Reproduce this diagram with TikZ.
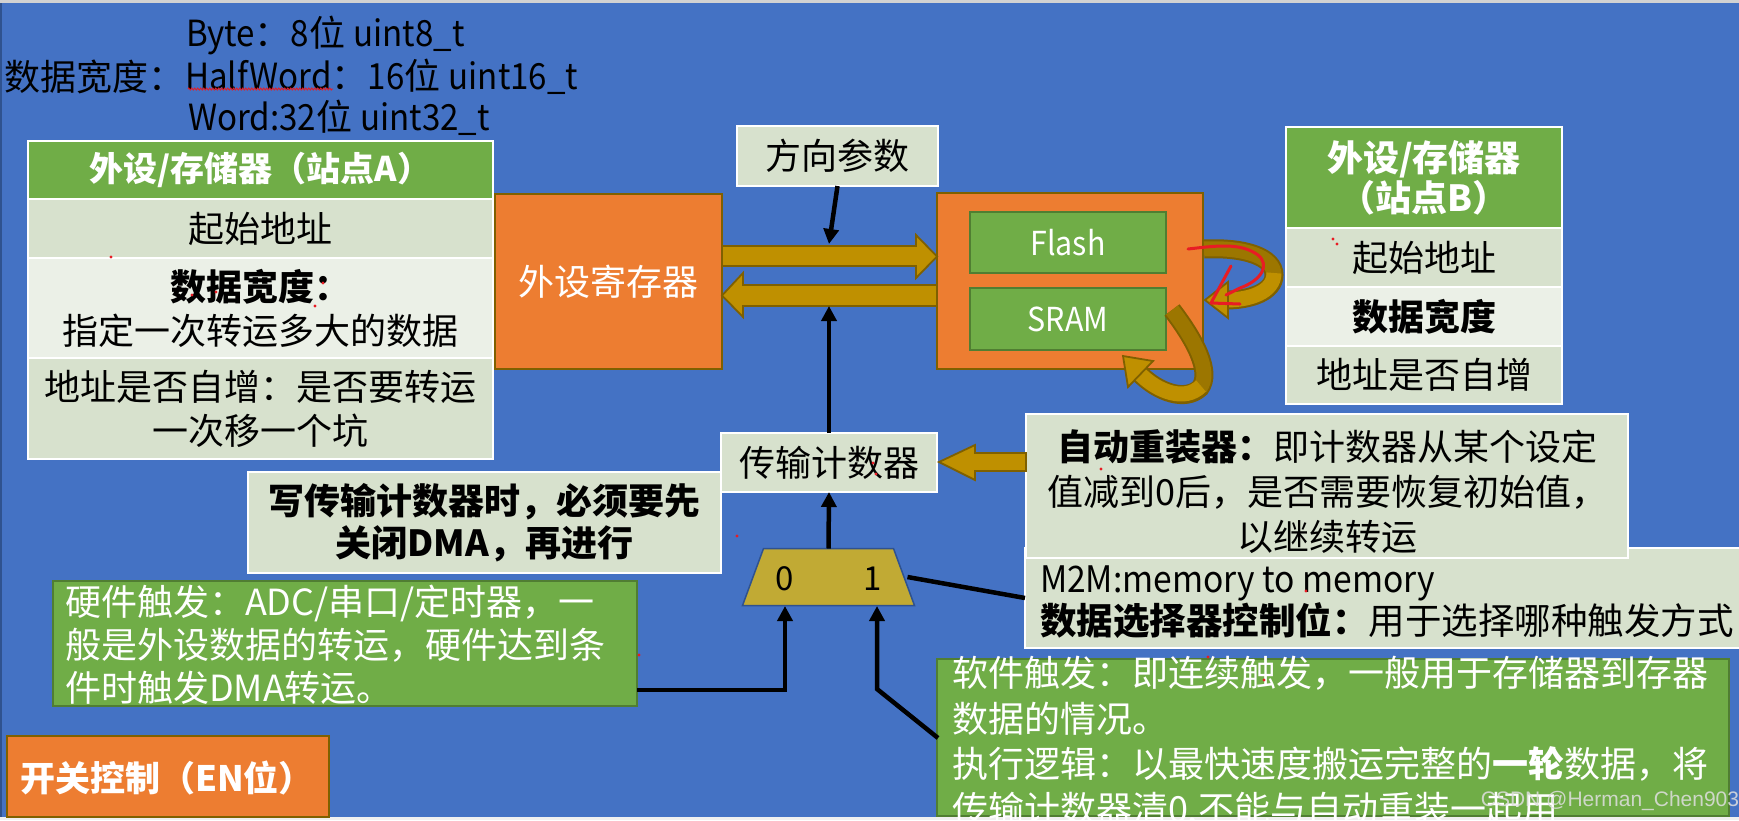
\documentclass[tikz,border=0pt]{standalone}
\usepackage{fontspec}
\setmainfont{Noto Sans CJK SC}
\newfontfamily\latn[FakeStretch=0.92]{Noto Sans CJK SC}
\newfontfamily\latm[FakeStretch=0.92]{Noto Sans CJK SC}
\newfontfamily\wmfont{Liberation Sans}
\usetikzlibrary{arrows.meta,calc,decorations.pathmorphing}
\definecolor{bgblue}{HTML}{4472C4}
\definecolor{bgdark}{HTML}{2F528F}
\definecolor{orangeF}{HTML}{ED7D31}
\definecolor{goldB}{HTML}{7F6000}
\definecolor{greenF}{HTML}{70AD47}
\definecolor{greenB}{HTML}{507E32}
\definecolor{rowA}{HTML}{D7E1CD}
\definecolor{rowB}{HTML}{EBF0E7}
\definecolor{goldF}{HTML}{BF9000}
\definecolor{goldD}{HTML}{9C7600}
\definecolor{muxF}{RGB}{193,170,52}
\definecolor{redpen}{RGB}{232,28,36}
\newcommand\myfs[2]{\fontsize{#1}{#2}\selectfont}
\begin{document}
\begin{tikzpicture}[x=1pt,y=-1pt,
  every node/.style={inner sep=0pt,outer sep=0pt},
  lbox/.style={draw=white,line width=2pt,fill=rowA},
  cellB/.style={draw=white,line width=2.5pt,fill=rowB},
  cellA/.style={draw=white,line width=2.5pt,fill=rowA},
  hdr/.style={draw=white,line width=2.5pt,fill=greenF,text=white},
  obox/.style={draw=goldB,line width=2pt,fill=orangeF},
  gbox/.style={draw=greenB,line width=2.2pt,fill=greenF},
  conn/.style={line width=4.5pt,-{Triangle[length=15pt,width=15pt]}},
  wire/.style={line width=4.5pt},
  body/.style={font=\myfs{36}{44}},
  block/.style={fill=goldF,draw=goldB,line width=1.8pt,line join=miter},
  ribbonB/.style={draw=goldB,line width=19pt},
  ribbonD/.style={draw=goldD,line width=15pt},
  ribbonL/.style={draw=goldF,line width=15pt},
  pen/.style={draw=redpen,line width=3pt,line cap=round,line join=round},
  dot/.style={fill=redpen}
]
\useasboundingbox (0,0) rectangle (1739,820);
\clip (0,0) rectangle (1739,820);
% background
\fill[bgblue] (0,0) rectangle (1739,820);
\fill[gray!35] (0,0) rectangle (1739,3);
\fill[gray!12] (0,817) rectangle (1739,820);
\draw[bgdark,line width=2pt] (1,3) -- (1,817);

% top text
\node[anchor=west,font=\myfs{36}{40}] (t1) at (186,35) {{\latn Byte}：{\latn 8}位 {\latn uint8\_t}};
\node[anchor=west,font=\myfs{36}{40}] (t0) at (5,77) {数据宽度：};
\node[anchor=west,font=\myfs{36}{40}] (t2) at (185,77) {{\latn HalfWord}：{\latn 16}位 {\latn uint16\_t}};
\node[anchor=west,font=\myfs{36}{40}] (t3) at (188,118) {{\latn Word:32}位 {\latn uint32\_t}};
\draw[redpen,line width=0.9pt,decorate,decoration={zigzag,segment length=3pt,amplitude=1pt}] (188,89) -- (333,89);

% table A
\node[hdr,minimum width=465pt,minimum height=58pt,font=\myfs{34}{40}\bfseries] (aH) at (260.5,170) {外设/存储器（站点A）};
\node[cellA,minimum width=465pt,minimum height=59pt,body] (aR1) at (260.5,228.5) {起始地址};
\node[cellB,minimum width=465pt,minimum height=100pt,body,align=center] (aR2) at (260.5,308) {\textbf{数据宽度：}\\指定一次转运多大的数据};
\node[cellA,minimum width=465pt,minimum height=101pt,body,align=center] (aR3) at (260.5,408.5) {地址是否自增：是否要转运\\一次移一个坑};

% peripheral register
\node[obox,minimum width=227pt,minimum height=175pt,body,text=white] (reg) at (608.5,281.5) {外设寄存器};
% direction parameter
\node[lbox,minimum width=201pt,minimum height=60pt,body] (dir) at (837.5,156) {方向参数};
% memory container
\node[obox,minimum width=266pt,minimum height=176pt] (cont) at (1070,281) {};
\node[gbox,minimum width=196pt,minimum height=61pt,font=\myfs{33}{36},text=white] (flash) at (1068,242.5) {\latm Flash};
\node[gbox,minimum width=196pt,minimum height=62pt,font=\myfs{33}{36},text=white] (sram) at (1068,319) {\latm SRAM};

% block arrows between register and memory
\path[block] (722,246) -- (916,246) -- (916,235) -- (937,256.5) -- (916,278) -- (916,266) -- (722,266) -- cycle;
\path[block] (937,285) -- (743,285) -- (743,273) -- (722,295.5) -- (743,317) -- (743,306) -- (937,306) -- cycle;

% table B
\node[hdr,minimum width=276pt,minimum height=101pt,font=\myfs{36}{40}\bfseries,align=center] (bH) at (1424,177.5) {外设/存储器\\（站点B）};
\node[cellA,minimum width=276pt,minimum height=59pt,body] (bR1) at (1424,257.5) {起始地址};
\node[cellB,minimum width=276pt,minimum height=59pt,body,font=\myfs{36}{44}\bfseries] (bR2) at (1424,316.5) {数据宽度};
\node[cellA,minimum width=276pt,minimum height=58pt,body] (bR3) at (1424,375) {地址是否自增};

% curved arrows (memory to memory)
\draw[ribbonB] (1204,249) .. controls (1245,247) and (1274,257) .. (1274,275) .. controls (1274,292) and (1250,300) .. (1226,300);
\draw[ribbonD] (1204,249) .. controls (1245,247) and (1274,257) .. (1274,275);
\draw[ribbonL] (1274,273) .. controls (1274,292) and (1250,300) .. (1226,300);
\path[block] (1205,300) -- (1228,282) -- (1228,318) -- cycle;

\draw[ribbonB] (1172,310) .. controls (1195,340) and (1212,372) .. (1200,388) .. controls (1185,402) and (1158,392) .. (1140,374);
\draw[ribbonD] (1172,310) .. controls (1195,340) and (1212,372) .. (1200,388);
\draw[ribbonL] (1201,386) .. controls (1185,402) and (1158,392) .. (1140,374);
\path[block] (1123,356) -- (1153,361) -- (1128,387) -- cycle;

% counter and reload
\node[lbox,minimum width=216pt,minimum height=59pt,body] (counter) at (829,462.5) {传输计数器};
\node[lbox,minimum width=720pt,minimum height=100pt] (m2m) at (1385,598) {};
\node[anchor=west,font=\myfs{36.5}{40},align=left] (m2mtxt) at (1040,602) {{\latm M2M:memory to memory}\\\textbf{数据选择器控制位：}用于选择哪种触发方式};
\node[lbox,minimum width=602pt,minimum height=144pt] (reload) at (1327,486) {};
\node[body,align=center,font=\myfs{36}{45}] (reloadtxt) at (1327,492) {\textbf{自动重装器：}即计数器从某个设定\\值减到0后，是否需要恢复初始值，\\以继续转运};
\path[block] (1026,453) -- (975,453) -- (975,445) -- (939,462) -- (975,480) -- (975,471) -- (1026,471) -- cycle;

% write note
\node[lbox,minimum width=473pt,minimum height=101pt,font=\myfs{36}{42}\bfseries,align=center] (write) at (484.5,522.5) {写传输计数器时，必须要先\\关闭DMA，再进行};

% hardware trigger
\node[gbox,minimum width=584pt,minimum height=125pt] (hw) at (345,643.5) {};
\node[anchor=west,font=\myfs{36}{43},text=white,align=left] (hwtxt) at (65,645) {硬件触发：ADC/串口/定时器，一\\般是外设数据的转运，硬件达到条\\件时触发DMA转运。};

% software trigger
\node[gbox,minimum width=792pt,minimum height=157pt] (sw) at (1333,737.5) {};
\node[anchor=west,font=\myfs{36}{45.4},text=white,align=left] (swtxt) at (952,743) {软件触发：即连续触发，一般用于存储器到存器\\数据的情况。\\执行逻辑：以最快速度搬运完整的\textbf{一轮}数据，将\\传输计数器清0,不能与自动重装一起用};

% EN box
\node[obox,minimum width=322pt,minimum height=81pt] (en) at (168,776.5) {};
\node[anchor=west,font=\myfs{35}{40}\bfseries,text=white] (entxt) at (20,778) {开关控制（EN位）};

% mux
\node[minimum width=158pt,minimum height=57pt] (mux) at (828.5,577) {};
\filldraw[fill=muxF,draw=bgdark,line width=1.5pt] ($(mux.north west)+(14,0)$) -- ($(mux.north east)+(-14,0)$) -- ($(mux.south east)+(7,0)$) -- ($(mux.south west)+(-7,0)$) -- cycle;
\node[font=\myfs{33}{36}] (m0) at (785,579) {0};
\node[font=\myfs{33}{36}] (m1) at (873,579) {1};

% connectors
\coordinate (dirtip) at (829,244);
\coordinate (uptip) at (829,306);
\coordinate (in0) at (785,606);
\coordinate (in1) at (877,606);
\coordinate (hwout) at (637,690);
\coordinate (bend1) at (877,689);
\coordinate (swin) at (938,738);
\draw[conn] (dir.south) -- (dirtip);
\draw[conn] (counter.north) -- (uptip);
\draw[conn] (mux.north) -- (counter.south);
\draw[wire] (mux.east) -- (m2m.west);
\draw[conn] (hwout) -| (in0);
\draw[conn,line join=miter] (swin) -- (bend1) -- (in1);

% watermark
\node[font=\wmfont\fontsize{21}{24}\selectfont,text=gray!25,opacity=0.85] (wm) at (1610,801) {CSDN @Herman\_Chen903};

% red pen marks
\draw[pen] (1188,249) .. controls (1215,246) and (1240,242) .. (1258,255) .. controls (1270,265) and (1262,280) .. (1240,288) -- (1226,295);
\draw[pen] (1231,266) -- (1211,303) -- (1240,304);
\foreach \p in {(111,257),(192,295),(216,292),(323,283),(315,306),(1333,239),(1337,244),(873,463),(876,474),(737,536),(639,655),(1101,469),(1306,591),(1208,657),(1264,680)}
  \fill[dot] \p circle (1.7pt);
\end{tikzpicture}
\end{document}
